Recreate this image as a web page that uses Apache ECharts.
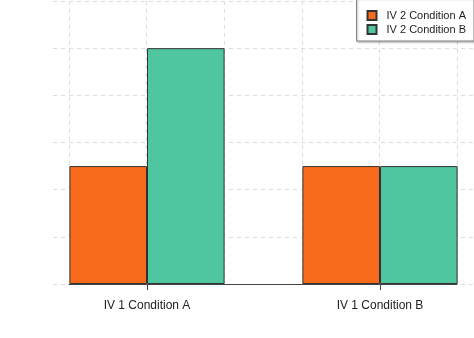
<!DOCTYPE html>
<html>
<head>
<meta charset="utf-8">
<script src="https://cdn.jsdelivr.net/npm/echarts@6/dist/echarts.min.js"></script>
<style>
  html, body { margin: 0; padding: 0; background: #fff; }
  #chart { width: 474px; height: 338px; }
</style>
</head>
<body>
<div id="chart"></div>
<script>
// values
var categories = ['IV 1 Condition A', 'IV 1 Condition B'];
var seriesNames = ['IV 2 Condition A', 'IV 2 Condition B'];
var ivA = [2.5, 2.5];
var ivB = [5, 2.5];
var colors = ['#f96b1c', '#50c6a0'];

var yMax = 6;
var gridTop = 1, gridBottom = 54;
var dash = { color: '#dcdcdc', type: [4, 4], width: 1 };
var font = 'Liberation Sans, Arial, sans-serif';

var option = {
    animation: false,
    backgroundColor: '#fff',
    legend: {
        data: seriesNames,
        orient: 'vertical',
        right: 0,
        top: -2,
        padding: [12, 8, 6, 10],
        itemWidth: 9,
        itemHeight: 9,
        itemGap: 3,
        icon: 'rect',
        backgroundColor: '#fff',
        borderColor: '#888',
        borderWidth: 1,
        shadowColor: 'rgba(0,0,0,0.3)',
        shadowBlur: 2,
        shadowOffsetX: 1,
        shadowOffsetY: 1,
        textStyle: { fontFamily: font, fontSize: 11, color: '#222', padding: [0, 0, 0, 5] }
    },
    grid: [
        // horizontal grid lines
        { left: 53, right: 0, top: gridTop, bottom: gridBottom, outerBoundsMode: 'none' },
        // vertical grid lines + axis line
        { left: 69, right: 17, top: gridTop, bottom: gridBottom, outerBoundsMode: 'none' },
        // bars
        { left: 30.5, width: 466, top: gridTop, bottom: gridBottom, outerBoundsMode: 'none' }
    ],
    xAxis: [
        { gridIndex: 0, type: 'value', show: false },
        {
            gridIndex: 1, type: 'value', min: 0, max: 5, interval: 1,
            axisLine: { show: true, lineStyle: { color: '#444', width: 1 } },
            axisTick: { show: false },
            axisLabel: { show: false },
            splitLine: { show: true, lineStyle: dash }
        },
        {
            gridIndex: 2, type: 'category', data: categories,
            axisLine: { show: false },
            axisTick: { show: true, alignWithLabel: true, length: 6, lineStyle: { color: '#444' } },
            axisLabel: { margin: 16, fontFamily: font, fontSize: 12, color: '#222' },
            splitLine: { show: false }
        }
    ],
    yAxis: [
        {
            gridIndex: 0, type: 'value', min: 0, max: yMax, interval: 1,
            axisLine: { show: false }, axisTick: { show: false }, axisLabel: { show: false },
            splitLine: { show: true, lineStyle: dash }
        },
        { gridIndex: 1, type: 'value', min: 0, max: yMax, show: false, splitLine: { show: false } },
        { gridIndex: 2, type: 'value', min: 0, max: yMax, show: false, splitLine: { show: false } }
    ],
    series: [
        {
            name: seriesNames[0], type: 'bar', xAxisIndex: 2, yAxisIndex: 2,
            data: ivA, barWidth: 77.6, barGap: '0%',
            itemStyle: { color: colors[0], borderColor: '#333', borderWidth: 1 }
        },
        {
            name: seriesNames[1], type: 'bar', xAxisIndex: 2, yAxisIndex: 2,
            data: ivB, barWidth: 77.6, barGap: '0%',
            itemStyle: { color: colors[1], borderColor: '#333', borderWidth: 1 }
        }
    ]
};

var myChart = echarts.init(document.getElementById('chart'));
myChart.setOption(option);
</script>
</body>
</html>
